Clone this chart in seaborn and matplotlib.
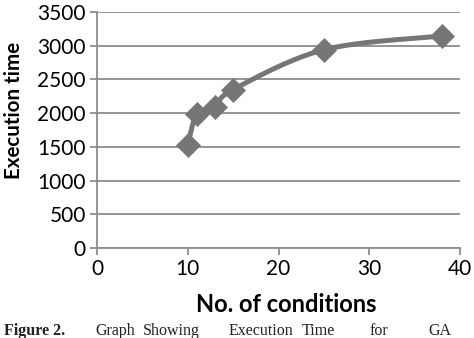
import numpy as np
import pandas as pd
import matplotlib
matplotlib.use("Agg")
import matplotlib.pyplot as plt
import seaborn as sns

# Measured execution time against the number of conditions
conditions = [10, 11, 13, 15, 25, 38]
exec_time = [1530, 1980, 2095, 2350, 2940, 3145]

x_ticks = [0, 10, 20, 30, 40]
y_ticks = [0, 500, 1000, 1500, 2000, 2500, 3000, 3500]

caption_bold = "Figure 2."
caption_words = ["Graph", "Showing", "Execution", "Time", "for", "GA"]
caption_word_x = [95, 143, 229, 302, 370, 428]

LINE = "#767676"
GRID = "#8c8c8c"


def smooth_curve(xs, ys, n=40):
    """Catmull-Rom style cubic Bezier smoothing through every point."""
    p = np.column_stack([xs, ys]).astype(float)
    p_ext = np.vstack([p[0], p, p[-1]])
    out = []
    t = np.linspace(0, 1, n)[:, None]
    for i in range(1, len(p_ext) - 2):
        p0, p1, p2, p3 = p_ext[i - 1], p_ext[i], p_ext[i + 1], p_ext[i + 2]
        c1 = p1 + (p2 - p0) / 6.0
        c2 = p2 - (p3 - p1) / 6.0
        seg = ((1 - t) ** 3) * p1 + 3 * ((1 - t) ** 2) * t * c1 + 3 * (1 - t) * t ** 2 * c2 + t ** 3 * p2
        out.append(seg if i == 1 else seg[1:])
    return np.vstack(out)


sns.set_theme(style="white")
plt.rcParams["font.family"] = ["Lato", "DejaVu Sans"]

fig = plt.figure(figsize=(4.74, 3.38), dpi=100)
ax = fig.add_axes([97 / 474, 1 - 248 / 338, (460 - 97) / 474, (248 - 12) / 338])

curve = smooth_curve(conditions, exec_time)
curve_df = pd.DataFrame({"x": curve[:, 0], "y": curve[:, 1]})
pts_df = pd.DataFrame({"x": conditions, "y": exec_time})

sns.lineplot(data=curve_df, x="x", y="y", sort=False, estimator=None,
             color=LINE, linewidth=3.6, ax=ax, zorder=3)
sns.scatterplot(data=pts_df, x="x", y="y", marker="D", s=150, color=LINE,
                edgecolor=LINE, linewidth=0.5, ax=ax, zorder=4)

ax.set_xlim(0, 40)
ax.set_ylim(0, 3500)
ax.set_xticks(x_ticks)
ax.set_yticks(y_ticks)
ax.set_xticklabels([str(v) for v in x_ticks])
ax.set_yticklabels([str(v) for v in y_ticks])

ax.yaxis.grid(True, color=GRID, linewidth=1.3)
ax.xaxis.grid(False)
ax.set_axisbelow(True)

for side in ["top", "right"]:
    ax.spines[side].set_visible(False)
for side in ["left", "bottom"]:
    ax.spines[side].set_color(GRID)
    ax.spines[side].set_linewidth(1.3)

ax.tick_params(axis="both", which="major", direction="out", length=5, width=1.3,
               color=GRID, labelsize=15, labelcolor="black", pad=3,
               bottom=True, left=True)

ax.set_xlabel("No. of conditions", fontsize=17, fontweight="bold", color="black")
ax.xaxis.set_label_coords(0.52, -0.19)
ax.set_ylabel("Execution time", fontsize=14.8, fontweight="bold", color="black")
ax.yaxis.set_label_coords(-0.2, 0.585)

# Figure caption along the bottom edge
cap_y = 1 - 335 / 338
fig.text(4 / 474, cap_y, caption_bold, fontsize=11.5, fontweight="bold",
         family="Liberation Serif", va="baseline", ha="left", color="#222222")
for word, px in zip(caption_words, caption_word_x):
    fig.text(px / 474, cap_y, word, fontsize=11.5, family="Liberation Serif",
             va="baseline", ha="left", color="#222222")

fig.savefig("out.png", dpi=100)
